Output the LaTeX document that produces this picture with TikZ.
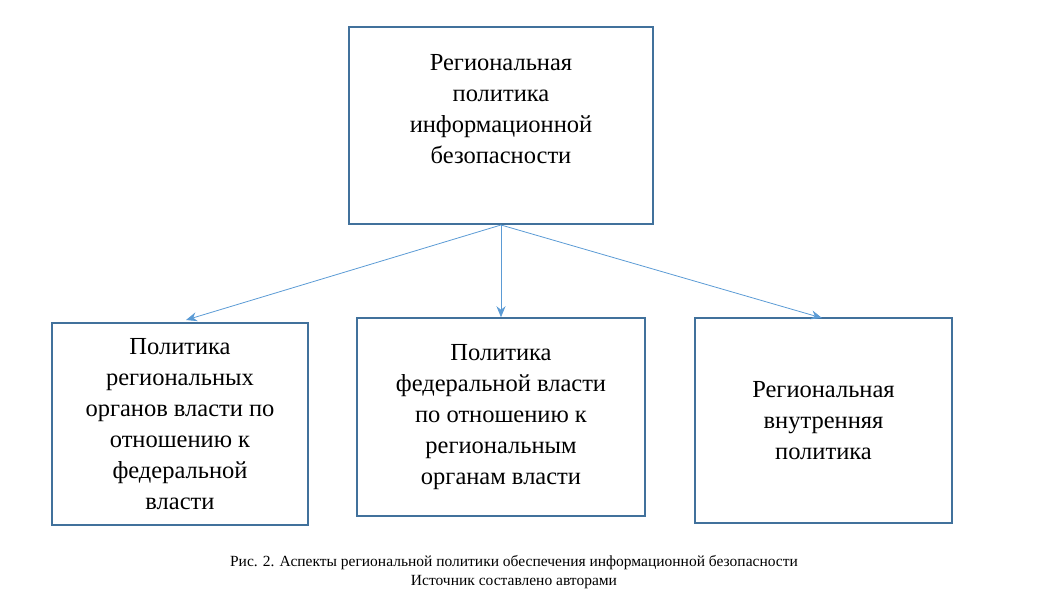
\documentclass[tikz,border=0pt]{standalone}
\usepackage{fontspec}
\setmainfont{Liberation Serif}
\usetikzlibrary{arrows.meta}
\definecolor{boxc}{HTML}{41719C}
\definecolor{arrc}{HTML}{5B9BD5}
\begin{document}
\begin{tikzpicture}[x=1pt,y=-1pt,
  box/.style={draw=boxc,line width=1.5pt,align=center,font=\fontsize{24.5}{31}\selectfont,inner sep=0pt},
  arr/.style={draw=arrc,line width=0.8pt,-{Stealth[length=11pt,width=9pt]}}]
\useasboundingbox (0,0) rectangle (1045,612);
\node[box,minimum width=304pt,minimum height=197pt] (top) at (501,125.5) {Региональная\\политика\\информационной\\безопасности\\[2pt]};
\node[box,minimum width=256pt,minimum height=202pt] (l) at (180,424) {Политика\\региональных\\органов власти по\\отношению к\\федеральной\\власти};
\node[box,minimum width=288pt,minimum height=198pt] (m) at (501,417) {Политика\\федеральной власти\\по отношению к\\региональным\\органам власти};
\node[box,minimum width=257pt,minimum height=205pt] (r) at (823.5,420.5) {Региональная\\внутренняя\\политика};
\coordinate (s) at (501,225);
\draw[arr] (s) -- (186,320);
\draw[arr] (s) -- (m.north);
\draw[arr] (s) -- (822,318);
\node[align=center,font=\fontsize{15.5}{19}\selectfont] (cap) at (514,572) {Рис. 2. Аспекты региональной политики обеспечения информационной безопасности\\Источник составлено авторами};
\end{tikzpicture}
\end{document}
